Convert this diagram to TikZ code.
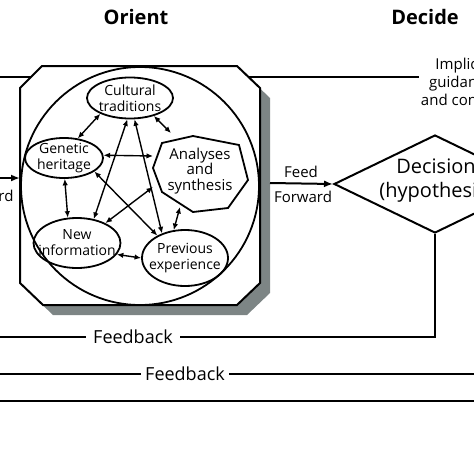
\documentclass[tikz,border=0pt]{standalone}
\usepackage{fontspec}
\setmainfont{Open Sans}
\usetikzlibrary{shapes.geometric,arrows.meta}
\definecolor{shadowgray}{RGB}{125,133,133}
\begin{document}
\begin{tikzpicture}[x=1pt,y=-1pt,
  every node/.style={inner sep=0pt},
  head/.style={font=\fontsize{20}{24}\selectfont\bfseries},
  heavy/.style={line width=2pt},
  ell/.style={ellipse,draw,line width=1.8pt},
  intext/.style={align=center,font=\fontsize{14}{16}\selectfont},
  link/.style={line width=1.4pt,{Latex[length=6.5pt,width=5.5pt]}-{Latex[length=6.5pt,width=5.5pt]}},
  ffarrow/.style={heavy,-{Latex[length=9pt,width=7pt]}},
  fflabel/.style={font=\fontsize{15}{18}\selectfont},
  fbl/.style={fill=white,inner xsep=7pt,inner ysep=2pt,font=\fontsize{18}{20}\selectfont}
]
\useasboundingbox (0,0) rectangle (474,474);

% headings
\node[head] (horient) at (136,17) {Orient};
\node[head] (hdecide) at (425,17) {Decide};

% named points
\coordinate (inL) at (0,76.75);
\coordinate (octIn) at (31.25,76.75);
\coordinate (octOut) at (248.25,77.25);
\coordinate (implEnd) at (419,77.25);
\coordinate (ffL) at (0,178);
\coordinate (octW) at (20,178);
\coordinate (octE) at (270,183);
\coordinate (fb1) at (0,337);
\coordinate (fb2l) at (0,374);
\coordinate (fb2r) at (474,374);
\coordinate (fb3l) at (0,401);
\coordinate (fb3r) at (474,401);

% orient box with shadow
\fill[shadowgray] (30,98) -- (52,76) -- (247,76) -- (270,98) -- (270,293) -- (247,315) -- (53,315) -- (30,293) -- cycle;
\draw[heavy,fill=white] (20,88) -- (42,66) -- (237,66) -- (260,88) -- (260,283) -- (237,305) -- (43,305) -- (20,283) -- cycle;
\draw[line width=1.8pt] (140,186) circle (119);

% inner nodes
\node[ell,minimum width=86pt,minimum height=41pt,label={[intext]center:Cultural\\traditions}] (cult) at (130,98) {};
\node[ell,minimum width=78pt,minimum height=40pt,label={[intext]center:Genetic\\heritage}] (gen) at (64,158) {};
\node[ell,minimum width=87pt,minimum height=50pt,label={[intext]center:New\\information}] (newi) at (77,243) {};
\node[ell,minimum width=86pt,minimum height=56pt,label={[intext]center:Previous\\experience}] (prev) at (185,258) {};
\draw[line width=1.8pt] (162,143) -- (193,136) -- (239,145) -- (248,180) -- (228,208) -- (193,212) -- (162,192) -- (153,168) -- cycle;
\node[align=center,font=\fontsize{15}{15.5}\selectfont] (ana) at (200,171) {Analyses\\and\\synthesis};
\coordinate (ana1) at (171,133);
\coordinate (ana2) at (153,156);
\coordinate (ana3) at (153,187);
\coordinate (ana4) at (180,207);

% inner links
\draw[link] (gen.55) -- (cult.208);
\draw[link] (cult.-37) -- (ana1);
\draw[link] (gen.4) -- (ana2);
\draw[link] (cult.-97) -- (newi.55);
\draw[link] (cult.-78) -- (prev.133);
\draw[link] (gen.-24) -- (prev.141);
\draw[link] (ana3) -- (newi.35);
\draw[link] (gen.-88) -- (newi.110);
\draw[link] (newi.-16) -- (prev.180);
\draw[link] (ana4) -- (prev.112);

% decide
\node[diamond,draw,heavy,minimum width=202pt,minimum height=98pt] (dec) at (435,184) {};
\node[align=center,font=\fontsize{20}{24}\selectfont] (dect) at (436,181) {Decision\\(hypothesis)};
\node[align=center,font=\fontsize{15}{18}\selectfont] (impl) at (461,82) {Implicit\\guidance\\and control};

% connectors
\draw[heavy] (inL) -- (octIn);
\draw[heavy] (octOut) -- (implEnd);
\draw[ffarrow] (ffL) -- (octW);
\node[fflabel] (ffl1) at (-30,171) {Feed};
\node[fflabel] (ffl2) at (-15.5,196) {Forward};
\draw[ffarrow] (octE) -- (dec.west);
\node[fflabel] (ffr1) at (301,172) {Feed};
\node[fflabel] (ffr2) at (303,197) {Forward};

% feedback
\draw[heavy] (dec.south) |- (fb1);
\node[fbl] (fbt1) at (133,337) {Feedback};
\draw[heavy] (fb2l) -- (fb2r);
\node[fbl,inner xsep=4pt] (fbt2) at (185,374) {Feedback};
\draw[heavy] (fb3l) -- (fb3r);
\end{tikzpicture}
\end{document}
